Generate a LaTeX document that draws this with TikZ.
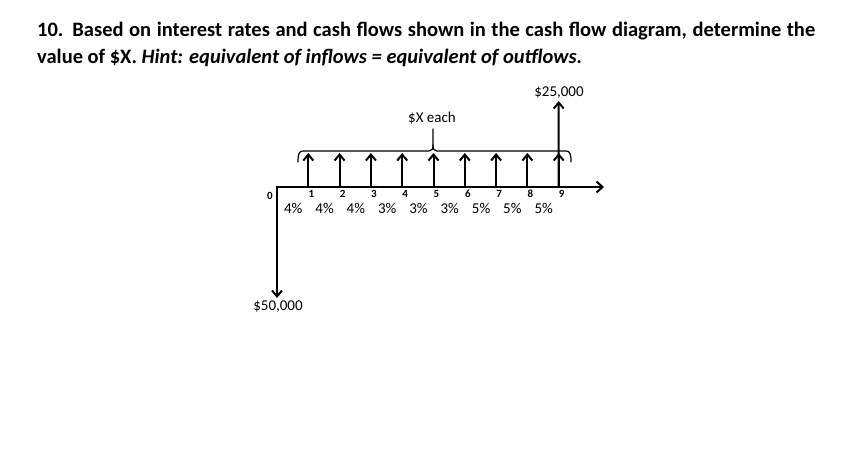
\documentclass[tikz,border=0pt]{standalone}
\usepackage{fontspec}
\setmainfont{Carlito}
\usetikzlibrary{arrows.meta}
\begin{document}
\begin{tikzpicture}[x=1pt,y=-1pt,
  flow/.style={line width=2pt,-{Straight Barb[length=6pt,width=10pt,line width=2pt]}},
  axis/.style={line width=2pt},
  lbl/.style={font=\fontsize{15}{17}\selectfont,inner sep=0pt},
  num/.style={font=\fontsize{11}{12}\selectfont\bfseries,inner sep=0pt},
  title/.style={font=\fontsize{20.5}{27}\selectfont\bfseries,inner sep=0pt,anchor=north west,text width=778pt,align=justify}]
\useasboundingbox (0,0) rectangle (851,455);
\node[title] (t1) at (37,22) {10. Based on interest rates and cash flows shown in the cash flow diagram, determine the value of \$X. \textit{Hint: equivalent of inflows = equivalent of outflows.}};
\coordinate (o) at (277,187);
\coordinate (e) at (604,187);
\draw[axis,-{Straight Barb[length=6pt,width=11pt,line width=2pt]}] (o) -- (e);
\coordinate (d) at (277,298);
\draw[axis,-{Straight Barb[length=6pt,width=10pt,line width=2pt]}] (277,186) -- (d);
\node[lbl] (m) at (278,307) {\$50,000};
\node[num] (n0) at (270,196) {0};
\foreach \i/\r in {1/4,2/4,3/4,4/3,5/3,6/3,7/5,8/5,9/5}{
  \pgfmathsetmacro\xx{277+31.3*\i}
  \coordinate (b\i) at (\xx,187);
  \coordinate (u\i) at (\xx,153);
  \draw[flow] (b\i) -- (u\i);
  \node[num] (n\i) at (\xx+3,194) {\i};
  \node[lbl] (p\i) at (\xx-15,208) {\r\%};
}
\coordinate (big) at (558.7,101);
\draw[flow] (b9) -- (big);
\node[lbl] (bl) at (559,93) {\$25,000};
\coordinate (br1) at (298,162);
\coordinate (br2) at (571,162);
\coordinate (tip) at (433,129);
\draw[line width=1.2pt,line cap=round,line join=round]
  (br1) .. controls (298,154) and (299,151) .. (303,151) -- (429,151)
  .. controls (432,151) and (433,149) .. (433,145) -- (tip);
\draw[line width=1.2pt,line cap=round,line join=round]
  (br2) .. controls (571,154) and (570,151) .. (566,151) -- (437,151)
  .. controls (434,151) and (433,149) .. (433,145);
\node[lbl] (xe) at (432,118) {\$X each};
\end{tikzpicture}
\end{document}
